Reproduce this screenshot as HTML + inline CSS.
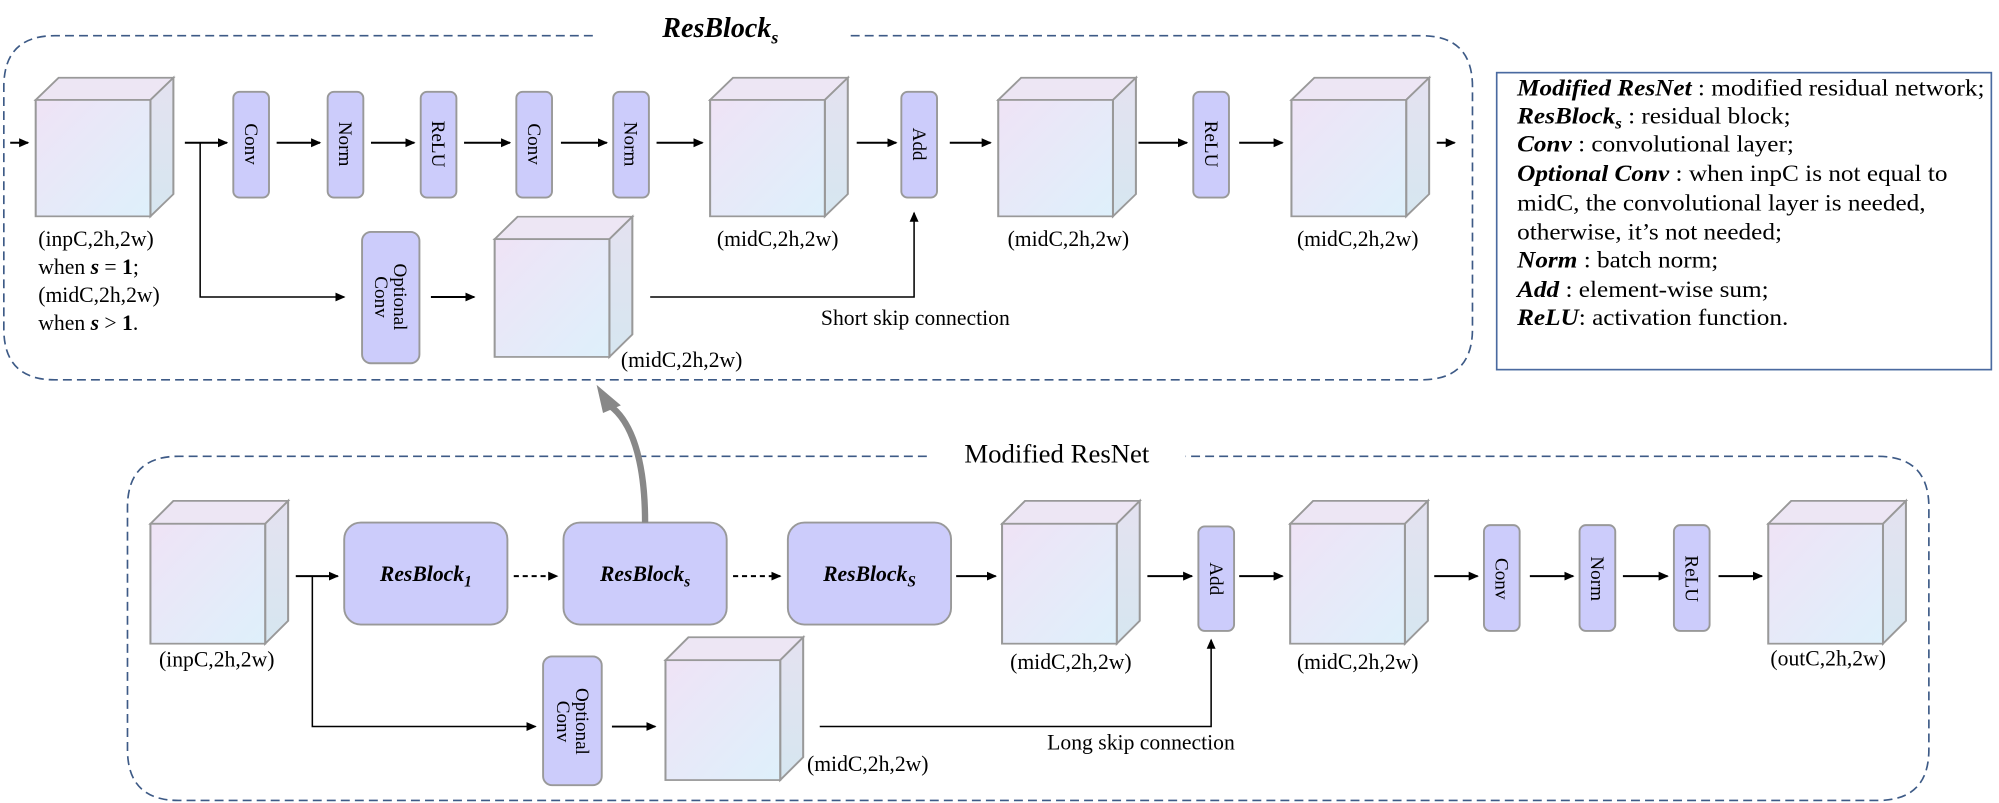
<!DOCTYPE html>
<html><head><meta charset="utf-8"><style>
html,body{margin:0;padding:0;background:#fff;}
svg{display:block;}
text{font-family:"Liberation Serif",serif;fill:#000;}
</style></head><body>
<svg width="1999" height="803" viewBox="0 0 1568 630" preserveAspectRatio="none" xmlns="http://www.w3.org/2000/svg">
<defs>
<linearGradient id="fg" x1="0" y1="0" x2="1" y2="1">
<stop offset="0" stop-color="#efe3f6"/><stop offset="1" stop-color="#def0fb"/></linearGradient>
<linearGradient id="sg" x1="0" y1="0" x2="0" y2="1">
<stop offset="0" stop-color="#e4e2f0"/><stop offset="1" stop-color="#d6e6f0"/></linearGradient>
<marker id="ah" markerWidth="8" markerHeight="8" refX="7" refY="4" orient="auto" markerUnits="userSpaceOnUse">
<path d="M0,0.5 L8,4 L0,7.5 Z" fill="#000"/></marker>
<g id="cube">
<polygon points="0,21 18,0 108,0 90,21" fill="#ede6f4" stroke="#999" stroke-width="1.6"/>
<polygon points="90,21 108,0 108,110 90,131" fill="url(#sg)" stroke="#999" stroke-width="1.6"/>
<rect x="0" y="21" width="90" height="110" fill="url(#fg)" stroke="#999" stroke-width="1.6"/>
</g>
</defs>

<!-- Top container -->
<path d="M465,28 L43,28 Q3,28 3,68 L3,258 Q3,298 43,298 L1115,298 Q1155,298 1155,258 L1155,68 Q1155,28 1115,28 L665,28" fill="none" stroke="#3d5a86" stroke-width="1.3" stroke-dasharray="7,4"/>
<text x="565" y="29" font-size="22" font-weight="bold" font-style="italic" text-anchor="middle">ResBlock<tspan font-size="14" dy="5">s</tspan></text>

<use href="#cube" transform="translate(28,61) scale(1,0.83)"/>
<use href="#cube" transform="translate(557,61) scale(1,0.83)"/>
<use href="#cube" transform="translate(783,61) scale(1,0.83)"/>
<use href="#cube" transform="translate(1013,61) scale(1,0.83)"/>
<use href="#cube" transform="translate(388,170) scale(1,0.84)"/>

<g font-size="17">
<text x="30" y="193">(inpC,2h,2w)</text>
<text x="30" y="215">when <tspan font-weight="bold" font-style="italic">s</tspan> = <tspan font-weight="bold">1</tspan>;</text>
<text x="30" y="237">(midC,2h,2w)</text>
<text x="30" y="259">when <tspan font-weight="bold" font-style="italic">s</tspan> &gt; <tspan font-weight="bold">1</tspan>.</text>
<text x="610" y="193" text-anchor="middle">(midC,2h,2w)</text>
<text x="838" y="193" text-anchor="middle">(midC,2h,2w)</text>
<text x="1065" y="193" text-anchor="middle">(midC,2h,2w)</text>
<text x="487" y="288">(midC,2h,2w)</text>
<text x="718" y="255" text-anchor="middle">Short skip connection</text>
</g>

<g fill="#ccccfb" stroke="#999" stroke-width="1.5">
<rect x="183" y="72" width="28" height="83" rx="5"/>
<rect x="257" y="72" width="28" height="83" rx="5"/>
<rect x="330" y="72" width="28" height="83" rx="5"/>
<rect x="405" y="72" width="28" height="83" rx="5"/>
<rect x="481" y="72" width="28" height="83" rx="5"/>
<rect x="707" y="72" width="28" height="83" rx="5"/>
<rect x="936" y="72" width="28" height="83" rx="5"/>
<rect x="284" y="182" width="45" height="103" rx="7"/>
</g>
<g font-size="15">
<text transform="translate(197,113) rotate(90)" text-anchor="middle" dy="5">Conv</text>
<text transform="translate(271,113) rotate(90)" text-anchor="middle" dy="5">Norm</text>
<text transform="translate(344,113) rotate(90)" text-anchor="middle" dy="5">ReLU</text>
<text transform="translate(419,113) rotate(90)" text-anchor="middle" dy="5">Conv</text>
<text transform="translate(495,113) rotate(90)" text-anchor="middle" dy="5">Norm</text>
<text transform="translate(721,113) rotate(90)" text-anchor="middle" dy="5">Add</text>
<text transform="translate(950,113) rotate(90)" text-anchor="middle" dy="5">ReLU</text>
<text transform="translate(306,233) rotate(90)" text-anchor="middle"><tspan x="0" dy="-3">Optional</tspan><tspan x="0" dy="15">Conv</tspan></text>
</g>

<g stroke="#000" stroke-width="1.5" fill="none">
<line x1="8" y1="112" x2="22" y2="112" marker-end="url(#ah)"/>
<line x1="145" y1="112" x2="178" y2="112" marker-end="url(#ah)"/>
<line x1="217" y1="112" x2="251" y2="112" marker-end="url(#ah)"/>
<line x1="291" y1="112" x2="325" y2="112" marker-end="url(#ah)"/>
<line x1="364" y1="112" x2="400" y2="112" marker-end="url(#ah)"/>
<line x1="440" y1="112" x2="476" y2="112" marker-end="url(#ah)"/>
<line x1="515" y1="112" x2="551" y2="112" marker-end="url(#ah)"/>
<line x1="672" y1="112" x2="703" y2="112" marker-end="url(#ah)"/>
<line x1="745" y1="112" x2="777" y2="112" marker-end="url(#ah)"/>
<line x1="893" y1="112" x2="931" y2="112" marker-end="url(#ah)"/>
<line x1="972" y1="112" x2="1006" y2="112" marker-end="url(#ah)"/>
<line x1="1127" y1="112" x2="1141" y2="112" marker-end="url(#ah)"/>
<polyline points="157,112 157,233 270,233" stroke-width="1.2" marker-end="url(#ah)"/>
<line x1="338" y1="233" x2="372" y2="233" marker-end="url(#ah)"/>
<polyline points="510,233 717,233 717,167" stroke-width="1.2" marker-end="url(#ah)"/>
</g>

<!-- Legend -->
<rect x="1174" y="57" width="388" height="233" fill="#fff" stroke="#4a6aa0" stroke-width="1.3"/>
<g font-size="18" transform="translate(1190,0) scale(1.1,1)">
<text x="0" y="75"><tspan font-weight="bold" font-style="italic">Modified ResNet</tspan> : modified residual network;</text>
<text x="0" y="97"><tspan font-weight="bold" font-style="italic">ResBlock<tspan font-size="12" dy="4">s</tspan></tspan><tspan dy="-4"> : residual block;</tspan></text>
<text x="0" y="119"><tspan font-weight="bold" font-style="italic">Conv</tspan> : convolutional layer;</text>
<text x="0" y="142"><tspan font-weight="bold" font-style="italic">Optional Conv</tspan> : when inpC is not equal to</text>
<text x="0" y="165">midC, the convolutional layer is needed,</text>
<text x="0" y="188">otherwise, it’s not needed;</text>
<text x="0" y="210"><tspan font-weight="bold" font-style="italic">Norm</tspan> : batch norm;</text>
<text x="0" y="233"><tspan font-weight="bold" font-style="italic">Add</tspan> : element-wise sum;</text>
<text x="0" y="255"><tspan font-weight="bold" font-style="italic">ReLU</tspan>: activation function.</text>
</g>

<!-- Bottom container -->
<path d="M727,358 L140,358 Q100,358 100,398 L100,588 Q100,628 140,628 L1473,628 Q1513,628 1513,588 L1513,398 Q1513,358 1473,358 L930,358" fill="none" stroke="#3d5a86" stroke-width="1.3" stroke-dasharray="7,4"/>
<text x="829" y="363" font-size="21" text-anchor="middle">Modified ResNet</text>

<use href="#cube" transform="translate(118,393) scale(1,0.855)"/>
<use href="#cube" transform="translate(786,393) scale(1,0.855)"/>
<use href="#cube" transform="translate(1012,393) scale(1,0.855)"/>
<use href="#cube" transform="translate(1387,393) scale(1,0.855)"/>
<use href="#cube" transform="translate(522,500) scale(1,0.855)"/>

<g font-size="17">
<text x="170" y="523" text-anchor="middle">(inpC,2h,2w)</text>
<text x="840" y="525" text-anchor="middle">(midC,2h,2w)</text>
<text x="1065" y="525" text-anchor="middle">(midC,2h,2w)</text>
<text x="1434" y="522" text-anchor="middle">(outC,2h,2w)</text>
<text x="633" y="605">(midC,2h,2w)</text>
<text x="895" y="588" text-anchor="middle">Long skip connection</text>
</g>

<g fill="#ccccfb" stroke="#999" stroke-width="1.5">
<rect x="270" y="410" width="128" height="80" rx="13"/>
<rect x="442" y="410" width="128" height="80" rx="13"/>
<rect x="618" y="410" width="128" height="80" rx="13"/>
<rect x="940" y="413" width="28" height="82" rx="5"/>
<rect x="1164" y="412" width="28" height="83" rx="5"/>
<rect x="1239" y="412" width="28" height="83" rx="5"/>
<rect x="1313" y="412" width="28" height="83" rx="5"/>
<rect x="426" y="515" width="46" height="101" rx="7"/>
</g>
<g font-size="17" font-weight="bold" font-style="italic" text-anchor="middle">
<text x="334" y="456">ResBlock<tspan font-size="12" dy="4">1</tspan></text>
<text x="506" y="456">ResBlock<tspan font-size="12" dy="4">s</tspan></text>
<text x="682" y="456">ResBlock<tspan font-size="12" dy="4">S</tspan></text>
</g>
<g font-size="15">
<text transform="translate(954,454) rotate(90)" text-anchor="middle" dy="5">Add</text>
<text transform="translate(1178,454) rotate(90)" text-anchor="middle" dy="5">Conv</text>
<text transform="translate(1253,454) rotate(90)" text-anchor="middle" dy="5">Norm</text>
<text transform="translate(1327,454) rotate(90)" text-anchor="middle" dy="5">ReLU</text>
<text transform="translate(449,566) rotate(90)" text-anchor="middle"><tspan x="0" dy="-3">Optional</tspan><tspan x="0" dy="15">Conv</tspan></text>
</g>

<g stroke="#000" stroke-width="1.5" fill="none">
<line x1="232" y1="452" x2="265" y2="452" marker-end="url(#ah)"/>
<line x1="403" y1="452" x2="437" y2="452" stroke-dasharray="4,3" marker-end="url(#ah)"/>
<line x1="575" y1="452" x2="612" y2="452" stroke-dasharray="4,3" marker-end="url(#ah)"/>
<line x1="750" y1="452" x2="781" y2="452" marker-end="url(#ah)"/>
<line x1="900" y1="452" x2="935" y2="452" marker-end="url(#ah)"/>
<line x1="972" y1="452" x2="1006" y2="452" marker-end="url(#ah)"/>
<line x1="1125" y1="452" x2="1159" y2="452" marker-end="url(#ah)"/>
<line x1="1200" y1="452" x2="1234" y2="452" marker-end="url(#ah)"/>
<line x1="1273" y1="452" x2="1308" y2="452" marker-end="url(#ah)"/>
<line x1="1348" y1="452" x2="1382" y2="452" marker-end="url(#ah)"/>
<polyline points="245,452 245,570 420,570" stroke-width="1.2" marker-end="url(#ah)"/>
<line x1="480" y1="570" x2="514" y2="570" marker-end="url(#ah)"/>
<polyline points="643,570 950,570 950,502" stroke-width="1.2" marker-end="url(#ah)"/>
</g>

<path d="M506,410 C506,360 495,330 478,318" fill="none" stroke="#888" stroke-width="5"/>
<path d="M468,302 L487,318 L473,324 Z" fill="#888"/>
</svg>
</body></html>
